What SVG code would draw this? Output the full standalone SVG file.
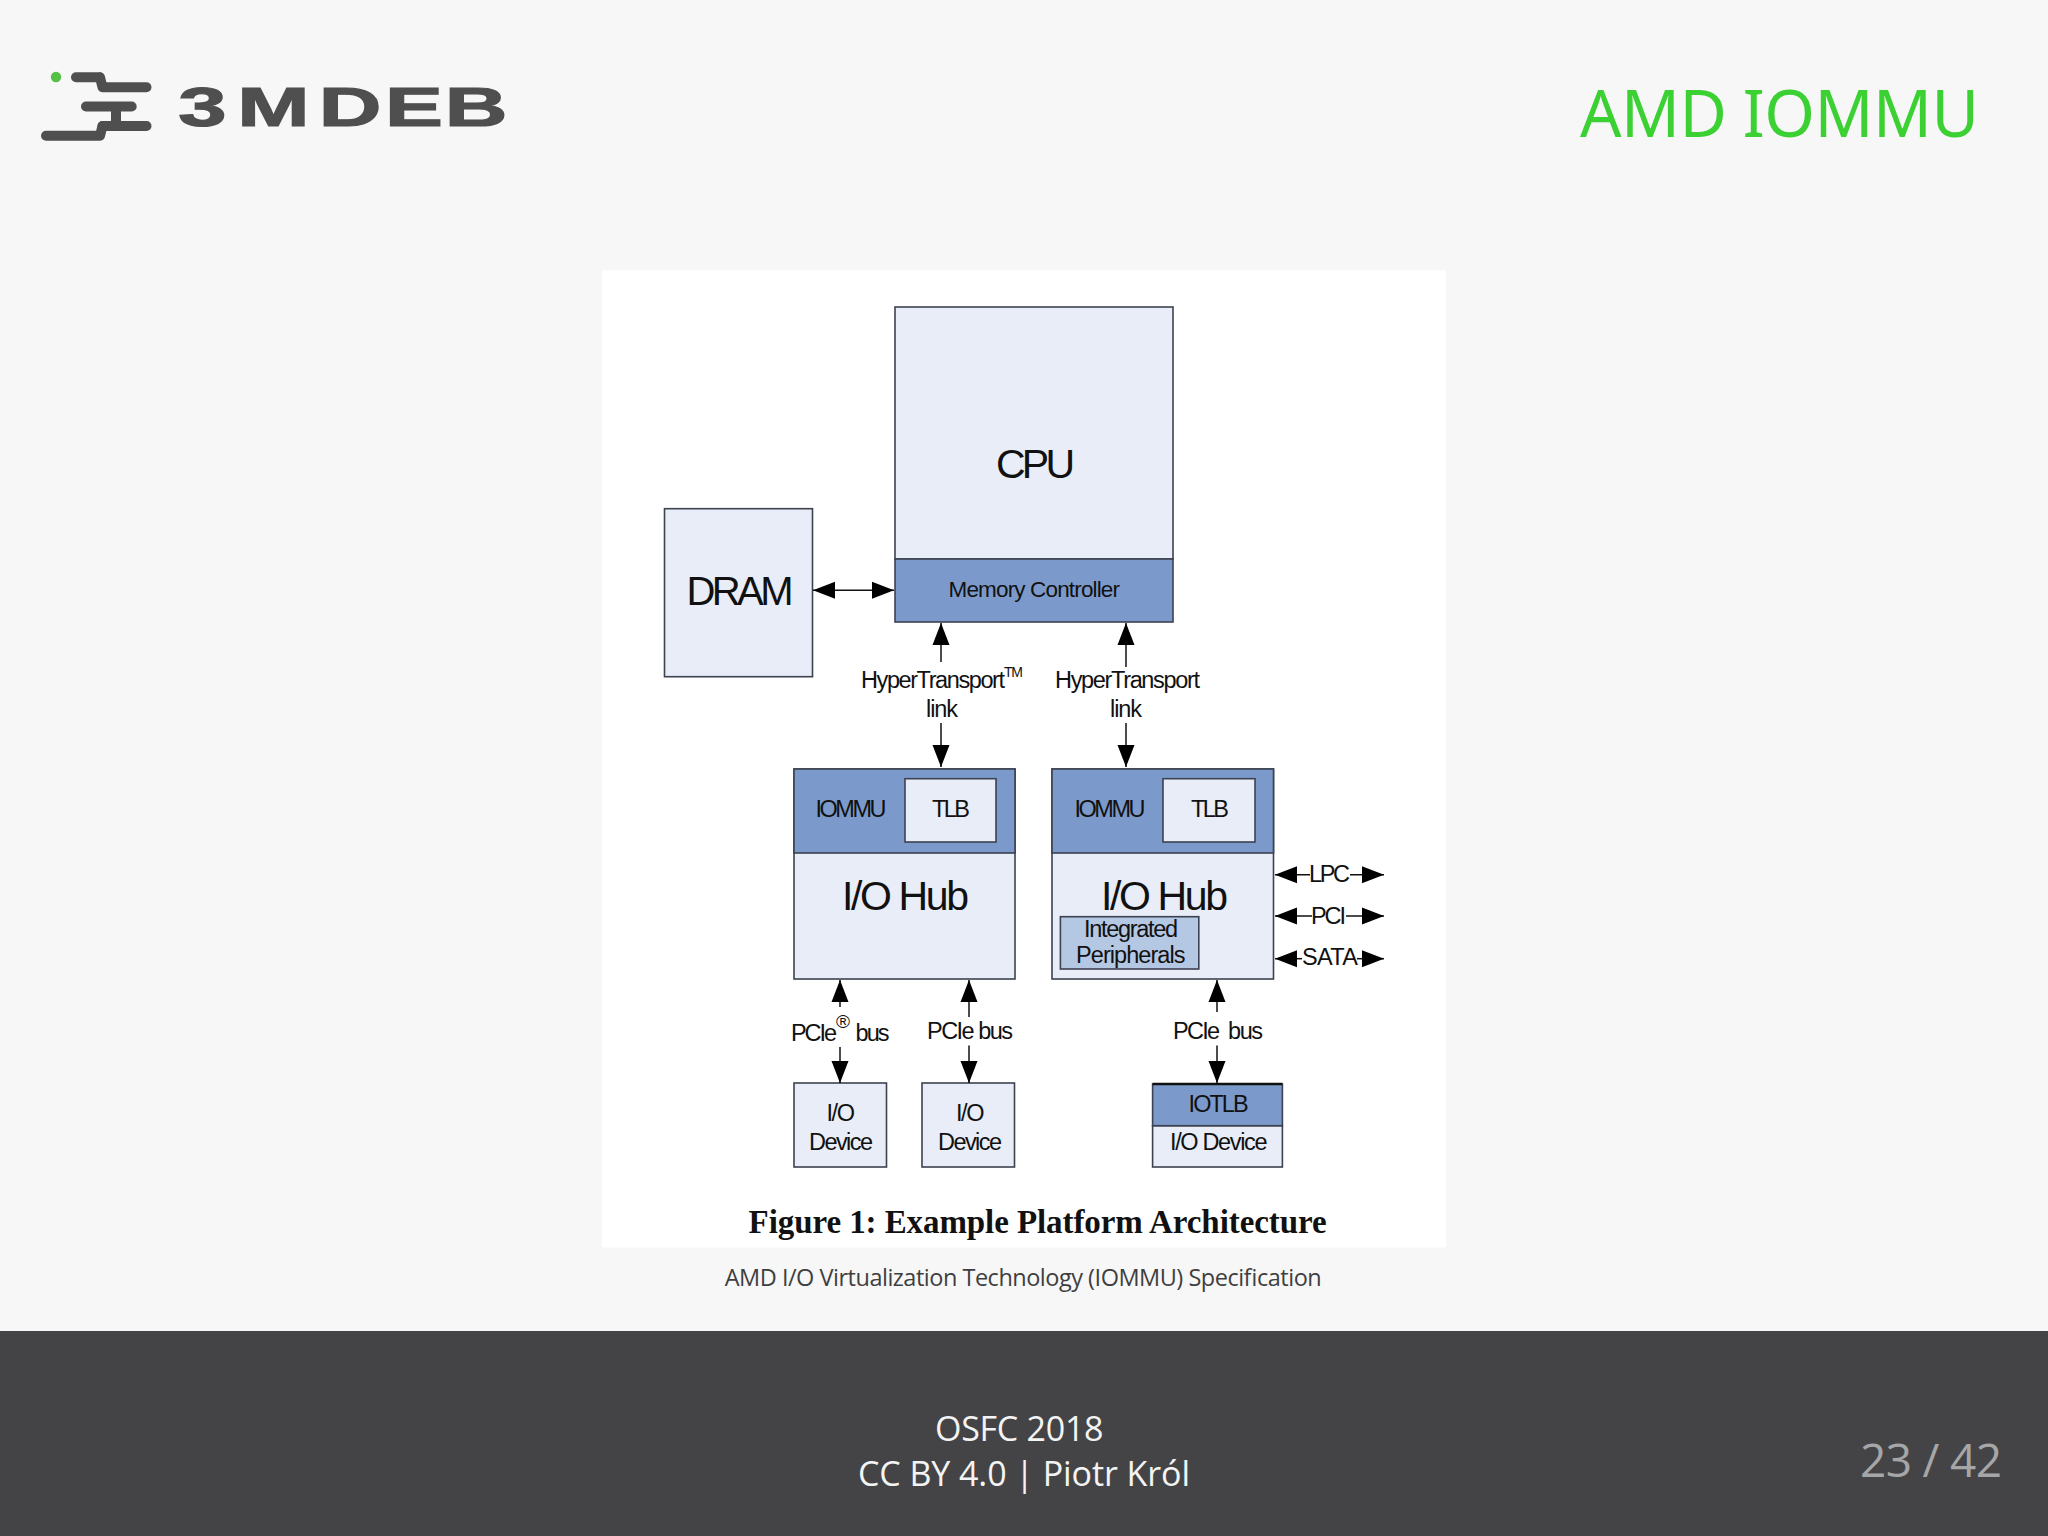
<svg xmlns="http://www.w3.org/2000/svg" width="2048" height="1536" viewBox="0 0 2048 1536">
<style>
.l{fill:#e8edf7;stroke:#3c4250;stroke-width:1.6}
.b{fill:#7b9acb;stroke:#3c4250;stroke-width:1.6}
.p{fill:#b4c7e3;stroke:#3c4250;stroke-width:1.6}
text{font-family:"Liberation Sans",Arial,sans-serif;fill:#111}
.s{font-size:23.500px}
.o{font-family:"Open Sans","Noto Sans",sans-serif}
.cn path{fill:none;stroke:#111;stroke-width:1.5;marker-end:url(#a)}
.lg path{fill:none;stroke:#4f4f4f;stroke-width:10;stroke-linecap:round;stroke-linejoin:round}
</style>
<defs>
<marker id="a" markerUnits="userSpaceOnUse" markerWidth="23" markerHeight="18" refX="22" refY="9" orient="auto"><path d="M0,0.500L22,9L0,17.500Z" fill="#000"/></marker>
</defs>
<rect width="2048" height="1536" fill="#f7f7f8"/>
<g id="logo" class="lg">
<circle cx="56" cy="77" r="5.200" fill="#55c046"/>
<path d="M76,77.300H100M102.500,87.300H146.500M100,77.300L102.500,87.300"/>
<path d="M86,106.500H131.700M116,106.500V126"/>
<path d="M102.500,126H146.500"/>
<path d="M46,135.700H100M100,135.700L102.500,126"/>
<text transform="scale(1.55,1)" x="115 153 205.600 248.400 287" y="126.500" font-size="56" font-weight="700" style="fill:#4f4f4f;stroke:#4f4f4f;stroke-width:1.200">3MDEB</text>
</g>
<text id="title" x="1580" y="137" font-size="65" textLength="399" style="font-family:'Noto Sans','Open Sans',sans-serif;fill:#3bd132">AMD IOMMU</text>
<rect id="figure" x="602" y="270.500" width="844" height="977" fill="#fff"/>
<g id="cpu">
<rect class="l" x="895" y="307" width="278" height="252"/>
<text x="996" y="478" font-size="41" textLength="79">CPU</text>
</g>
<g id="memory-controller">
<rect class="b" x="895" y="559" width="278" height="63"/>
<text x="948.500" y="597" font-size="22.500" textLength="171.500">Memory Controller</text>
</g>
<g id="dram">
<rect class="l" x="664.500" y="508.700" width="148" height="168"/>
<text x="686.500" y="605" font-size="40" textLength="107">DRAM</text>
</g>
<g id="hub1">
<rect class="l" x="794" y="769" width="221" height="210"/>
<rect class="b" x="794" y="769" width="221" height="84"/>
<text x="815.500" y="817" class="s" textLength="71">IOMMU</text>
<rect class="l" x="905" y="778.700" width="91" height="63.300"/>
<text x="932" y="817" class="s" textLength="38">TLB</text>
<text x="842" y="910" font-size="41" textLength="127">I/O Hub</text>
</g>
<g id="hub2">
<rect class="l" x="1052" y="769" width="221.500" height="210"/>
<rect class="b" x="1052" y="769" width="221.500" height="84"/>
<text x="1074.500" y="817" class="s" textLength="71">IOMMU</text>
<rect class="l" x="1163" y="778.700" width="92" height="63.300"/>
<text x="1191" y="817" class="s" textLength="38">TLB</text>
<text x="1101" y="910" font-size="41" textLength="127">I/O Hub</text>
<rect class="p" x="1060.400" y="916.700" width="138.400" height="52.300"/>
<text x="1084" y="936.500" class="s" textLength="94">Integrated</text>
<text x="1076" y="963" class="s" textLength="109.500">Peripherals</text>
</g>
<g id="dev1">
<rect class="l" x="794" y="1083" width="92.500" height="84"/>
<text x="826.500" y="1120.700" class="s" textLength="28.500">I/O</text>
<text x="809" y="1150" class="s" textLength="64">Device</text>
</g>
<g id="dev2">
<rect class="l" x="922" y="1083" width="92.500" height="84"/>
<text x="956" y="1120.700" class="s" textLength="28.500">I/O</text>
<text x="938" y="1150" class="s" textLength="64">Device</text>
</g>
<g id="dev3">
<rect class="l" x="1152.600" y="1125.700" width="129.800" height="41.300"/>
<rect class="b" x="1152.600" y="1084" width="129.800" height="41.700"/>
<path d="M1152.600,1084H1282.400" stroke="#111" stroke-width="2.500"/>
<text x="1188.600" y="1112" class="s" textLength="60">IOTLB</text>
<text x="1170" y="1150" class="s" textLength="97.500">I/O Device</text>
</g>
<g id="connectors" class="cn">
<path d="M853,590.300H813"/>
<path d="M853,590.300H894"/>
<path d="M941,662V623"/>
<path d="M941,723V767"/>
<path d="M1126,667V623"/>
<path d="M1126,723V767"/>
<path d="M1310,874.700H1275"/>
<path d="M1350,874.700H1384"/>
<path d="M1312,916H1275"/>
<path d="M1346,916H1384"/>
<path d="M1302,958.700H1275"/>
<path d="M1357,958.700H1384"/>
<path d="M840,1007V980"/>
<path d="M840,1047V1083"/>
<path d="M969,1017V980"/>
<path d="M969,1045.600V1083"/>
<path d="M1217,1012V980"/>
<path d="M1217,1045.600V1083"/>
</g>
<g id="labels">
<text x="861" y="688" class="s" textLength="144">HyperTransport</text>
<text x="1004" y="677" font-size="14" textLength="19">TM</text>
<text x="926" y="717" class="s" textLength="32">link</text>
<text x="1055" y="688" class="s" textLength="145">HyperTransport</text>
<text x="1110" y="717" class="s" textLength="32">link</text>
<text x="1309" y="882" class="s" textLength="41">LPC</text>
<text x="1311" y="924" class="s" textLength="35">PCI</text>
<text x="1302" y="965" class="s" textLength="56">SATA</text>
<text x="791" y="1041" class="s" textLength="46">PCIe</text>
<text x="836" y="1028" font-size="19">®</text>
<text x="855.500" y="1041" class="s" textLength="34">bus</text>
<text x="927" y="1038.500" class="s" textLength="86">PCIe bus</text>
<text x="1173" y="1038.500" class="s" textLength="47">PCIe</text>
<text x="1228" y="1038.500" class="s" textLength="35">bus</text>
</g>
<text id="figure-caption" x="748.600" y="1232.700" font-size="33" font-weight="700" textLength="578" style="font-family:'Liberation Serif',serif">Figure 1: Example Platform Architecture</text>
<text id="source" class="o" x="724.700" y="1285.500" font-size="23.500" textLength="597" style="fill:#3f3f3f">AMD I/O Virtualization Technology (IOMMU) Specification</text>
<g id="footer">
<rect x="0" y="1331" width="2048" height="205" fill="#444446"/>
<text class="o" x="935" y="1441" font-size="34" textLength="168.500" style="fill:#f4f4f4">OSFC 2018</text>
<text class="o" x="858" y="1486" font-size="34" textLength="332" style="fill:#f4f4f4">CC BY 4.0 | Piotr Król</text>
<text class="o" x="1860" y="1477" font-size="46" textLength="142" style="fill:#a6a6a8">23 / 42</text>
</g>
</svg>
